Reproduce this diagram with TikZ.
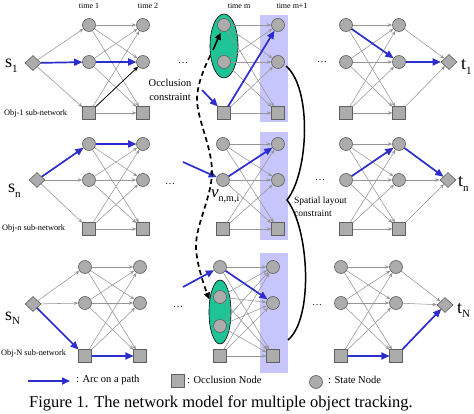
\documentclass[tikz,border=0pt]{standalone}
\usepackage{fontspec}
\setmainfont{Liberation Serif}
\usetikzlibrary{shapes.geometric,arrows.meta}
\definecolor{nodegray}{RGB}{172,172,172}
\definecolor{rimgray}{RGB}{95,95,95}
\definecolor{arcgray}{RGB}{150,150,150}
\definecolor{pathblue}{RGB}{45,45,205}
\definecolor{laneblue}{RGB}{198,198,252}
\definecolor{occgreen}{RGB}{30,196,150}
\newcommand{\sublbl}[2]{#1\raisebox{-0.5ex}{\fontsize{11}{11}\selectfont #2}}
\tikzset{
  state/.style={circle,draw=rimgray,fill=nodegray,minimum size=13pt,inner sep=0pt,line width=0.6pt},
  occl/.style={rectangle,draw=rimgray,fill=nodegray,minimum size=12.5pt,inner sep=0pt,line width=0.6pt},
  term/.style={diamond,draw=rimgray,fill=nodegray,minimum width=16pt,minimum height=15pt,inner sep=0pt,line width=0.6pt},
  arc/.style={draw=arcgray,line width=0.55pt,-{Stealth[length=4.5pt,width=3.5pt]}},
  patharc/.style={draw=pathblue,line width=1.7pt,-{Triangle[length=8pt,width=7pt]}},
  lane/.style={fill=laneblue},
  occgroup/.style={ellipse,draw=black,fill=occgreen,line width=0.6pt,inner sep=0pt},
  endlbl/.style={font=\fontsize{18}{20}\selectfont,anchor=base west,inner sep=0pt},
  netlbl/.style={font=\fontsize{8.3}{10}\selectfont,anchor=base west,inner sep=0pt},
  timelbl/.style={font=\fontsize{8}{10}\selectfont,inner sep=0pt},
  dots/.style={font=\fontsize{10}{10}\selectfont,inner sep=0pt},
  legtxt/.style={font=\fontsize{10.5}{12}\selectfont,anchor=west,inner sep=0pt}
}
\begin{document}
\begin{tikzpicture}[x=1pt,y=1pt]
	\useasboundingbox (0,0) rectangle (474,-414);
	\fill[lane] (260,-15) rectangle (288,-122);
	\fill[lane] (260,-132) rectangle (288,-240);
	\fill[lane] (260,-253) rectangle (288,-373);
	\node[occgroup,minimum width=28pt,minimum height=64pt] (occ1) at (224,-46) {};
	\node[occgroup,minimum width=22pt,minimum height=64pt] (occN) at (220,-312) {};
	\foreach \g/\ya/\yb/\yc/\dx/\cols in {o/25/62/113/0/{A/89,B/143,M/224,P/278,R/346,S/399},
		n/144/180/229/0/{A/89,B/143,M/223,P/278,R/346,S/399},
		N/267/303/356/-4/{A/89,B/144,P/277,R/345,S/400}} {
		\foreach \c/\x in \cols {
			\node[state] (\g\c1) at (\x+\dx,-\ya) {};
			\node[state] (\g\c2) at (\x+\dx,-\yb) {};
			\node[occl] (\g\c3) at (\x+\dx,-\yc) {};
		}
	}
	\node[state] (NM1) at (220,-267) {};
	\node[state] (NM2) at (220,-297) {};
	\node[state] (NM3) at (220,-326) {};
	\node[occl] (NM4) at (220,-356) {};
	\node[term] (osrc) at (33,-63) {};
	\node[term] (osnk) at (449,-62) {};
	\node[term] (nsrc) at (37,-180) {};
	\node[term] (nsnk) at (448,-180) {};
	\node[term] (Nsrc) at (33,-304) {};
	\node[term] (Nsnk) at (445,-305) {};
	\foreach \g in {o,n,N} {
		\foreach \i in {1,2,3} {
			\draw[arc] (\g src) -- (\g A\i);
			\draw[arc] (\g S\i) -- (\g snk);
			\foreach \j in {1,2,3} {
				\draw[arc] (\g A\i) -- (\g B\j);
				\draw[arc] (\g R\i) -- (\g S\j);
			}
		}
	}
	\foreach \g/\mm in {o/3,n/3,N/4} {
		\foreach \i in {1,...,\mm} {
			\foreach \j in {1,2,3} {
				\draw[arc] (\g M\i) -- (\g P\j);
			}
		}
	}
	\draw[patharc] (osrc) -- (oA2);
	\draw[patharc] (oA2) -- (oB2);
	\draw[patharc] (oM3) -- (oP1);
	\draw[patharc] (oR1) -- (oS2);
	\draw[patharc] (oS2) -- (osnk);
	\draw[line width=0.7pt,-{Stealth[length=5pt,width=4pt]}] (oA3) -- (oB2);
	\draw[patharc] (nsrc) -- (nA1);
	\draw[patharc] (nA1) -- (nB1);
	\draw[patharc] (nM2) -- (nP1);
	\draw[patharc] (nR2) -- (nS1);
	\draw[patharc] (nS1) -- (nsnk);
	\draw[patharc] (Nsrc) -- (NA3);
	\draw[patharc] (NA3) -- (NB3);
	\draw[patharc] (NM1) -- (NP2);
	\draw[patharc] (NR3) -- (NS3);
	\draw[patharc] (NS3) -- (Nsnk);
	\coordinate (tin) at (202,-90);
	\coordinate (cin) at (183,-162);
	\coordinate (bin) at (183,-287);
	\draw[patharc] (tin) -- (oM3);
	\draw[patharc] (cin) -- (nM2);
	\draw[patharc] (bin) -- (NM1);
	\coordinate (ocin) at (213,-50);
	\draw[line width=1.6pt,-{Triangle[length=7pt,width=6pt]},shorten >=1.5pt] (ocin) -- (oM1);
	\draw[line width=1.7pt,dash pattern=on 5pt off 3.5pt,-{Triangle[length=7pt,width=6pt]}]
		plot[smooth,tension=0.6] coordinates {(occ1.215) (197,-100) (212,-172) (196,-245) (occN.130)};
	\coordinate (spA) at (286,-66);
	\coordinate (spB) at (287,-200);
	\coordinate (spC) at (288,-340);
	\draw[line width=1.5pt] (spA) .. controls (312,-88) and (309,-172) .. (spB)
		.. controls (309,-228) and (314,-318) .. (spC);
	\node[endlbl] (olbl) at (5,-68) {\sublbl{s}{1}};
	\node[endlbl] (nlbl) at (8,-193) {\sublbl{s}{n}};
	\node[endlbl] (Nlbl) at (5,-320) {\sublbl{s}{N}};
	\node[endlbl] (otl) at (461,-70) {\sublbl{t}{1}};
	\node[endlbl] (ntl) at (458,-187) {\sublbl{t}{n}};
	\node[endlbl] (Ntl) at (457,-313) {\sublbl{t}{N}};
	\node[netlbl] (onet) at (4,-116) {Obj-1 sub-network};
	\node[netlbl] (nnet) at (2,-231) {Obj-n sub-network};
	\node[netlbl] (Nnet) at (1,-355) {Obj-N sub-network};
	\node[timelbl] (tm1) at (89,-6) {time 1};
	\node[timelbl] (tm2) at (148,-6) {time 2};
	\node[timelbl] (tmm) at (239,-6) {time m};
	\node[timelbl] (tmp) at (292,-6) {time m+1};
	\node[dots] (od1) at (183,-63) {\ldots};
	\node[dots] (od2) at (322,-62) {\ldots};
	\node[dots] (nd1) at (170,-184) {\ldots};
	\node[dots] (nd2) at (320,-180) {\ldots};
	\node[dots] (Nd1) at (178,-307) {\ldots};
	\node[dots] (Nd2) at (317,-305) {\ldots};
	\node[font=\fontsize{10.5}{14}\selectfont,align=center,inner sep=0pt] (occtxt) at (170,-90) {Occlusion\\constraint};
	\node[font=\fontsize{9.5}{13}\selectfont,align=left,anchor=west,inner sep=0pt] (sptxt) at (294,-207) {Spatial layout\\constraint};
	\node[anchor=base west,inner sep=0pt] (vlbl) at (211,-198) {\fontsize{17}{17}\selectfont\textit{v}\raisebox{-0.5ex}{\fontsize{10}{10}\selectfont n,m,i}};
	\coordinate (legA) at (28,-381);
	\coordinate (legB) at (70,-381);
	\draw[patharc] (legA) -- (legB);
	\node[legtxt] (legarc) at (76,-380) {: Arc on a path};
	\node[occl] (legocc) at (178,-381) {};
	\node[legtxt] (legocct) at (187,-380) {: Occlusion Node};
	\node[state] (legst) at (316,-382) {};
	\node[legtxt] (legstt) at (328,-380) {: State Node};
	\node[font=\fontsize{16.5}{18}\selectfont,inner sep=0pt] (cap) at (221,-403) {Figure 1. The network model for multiple object tracking.};
\end{tikzpicture}
\end{document}
